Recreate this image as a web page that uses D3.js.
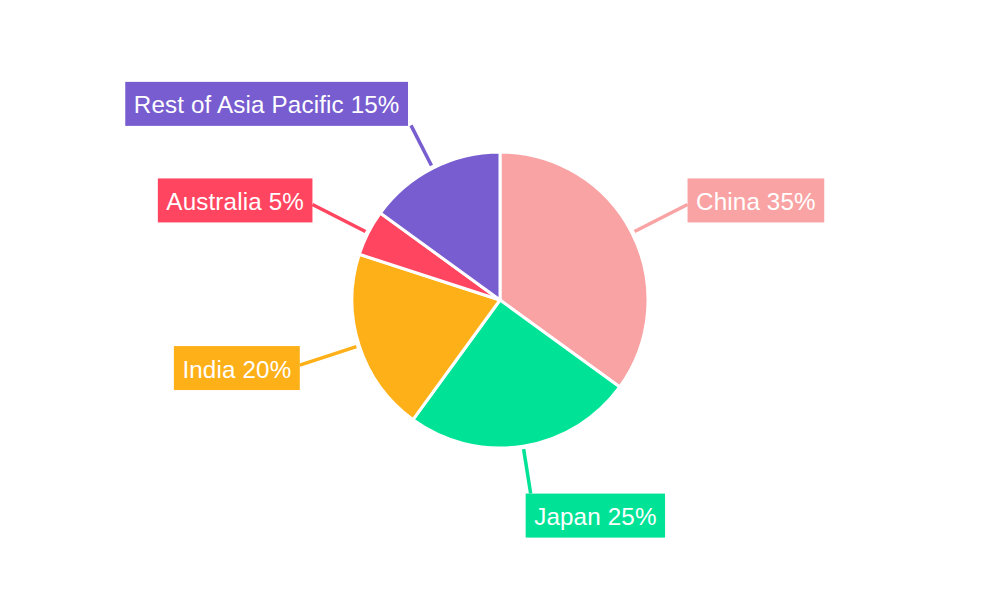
<!DOCTYPE html>
<html><head><meta charset="utf-8">
<script src="https://cdn.jsdelivr.net/npm/d3@7"></script>
<style>body{margin:0;background:#fff}svg{display:block}</style>
</head><body>
<svg id="chart" width="1000" height="600"></svg>
<script>
const categories = ["China", "Japan", "India", "Australia", "Rest of Asia Pacific"];
const values = [35, 25, 20, 5, 15];
const colors = ["#F9A3A4", "#00E396", "#FEB019", "#FF4560", "#775DD0"];

const svg = d3.select("#chart");
const cx = 500, cy = 300, R = 148;
const g = svg.append("g").attr("transform", `translate(${cx},${cy})`);

const pie = d3.pie().sort(null).value(d => d)(values);
const arc = d3.arc().innerRadius(0).outerRadius(R);

g.selectAll("path.slice").data(pie).join("path")
  .attr("class", "slice")
  .attr("d", arc)
  .attr("fill", (d, i) => colors[i])
  .attr("stroke", "#fff").attr("stroke-width", 3).attr("stroke-linejoin", "round");

const total = d3.sum(values);
const fs = 24.2, padX = 8.5, boxH = 44;

pie.forEach((d, i) => {
  const a = (d.startAngle + d.endAngle) / 2;
  const sx = Math.sin(a), sy = -Math.cos(a);
  const vertical = Math.abs(sy) > 0.85;
  const rEnd = vertical ? 196 : 210.5;
  const r0 = 151;
  const ex = sx * rEnd, ey = sy * rEnd;
  g.append("line")
    .attr("x1", sx * r0).attr("y1", sy * r0)
    .attr("x2", ex).attr("y2", ey)
    .attr("stroke", colors[i]).attr("stroke-width", 3.5);

  const lg = g.append("g");
  const label = `${categories[i]} ${Math.round(values[i] / total * 100)}%`;
  const rect = lg.append("rect").attr("fill", colors[i]);
  const txt = lg.append("text")
    .attr("font-family", "Liberation Sans, Arial, sans-serif")
    .attr("font-size", fs).attr("fill", "#fff")
    .attr("letter-spacing", 0.15)
    .attr("dominant-baseline", "central")
    .text(label);
  const tw = txt.node().getComputedTextLength();
  const bw = tw + 2 * padX;
  let bx, by;
  if (vertical) {
    if (sy < 0) { bx = ex - 3 - bw; by = ey - boxH + 0.5; }
    else { bx = ex - 5; by = ey; }
  } else {
    const yc = ey + (sy < 0 ? -4 : 3);
    by = yc - boxH / 2;
    bx = sx > 0 ? ex : ex - bw;
  }
  rect.attr("x", bx).attr("y", by).attr("width", bw).attr("height", boxH);
  txt.attr("x", bx + padX).attr("y", by + boxH / 2 + 1);
});
</script>
</body></html>
